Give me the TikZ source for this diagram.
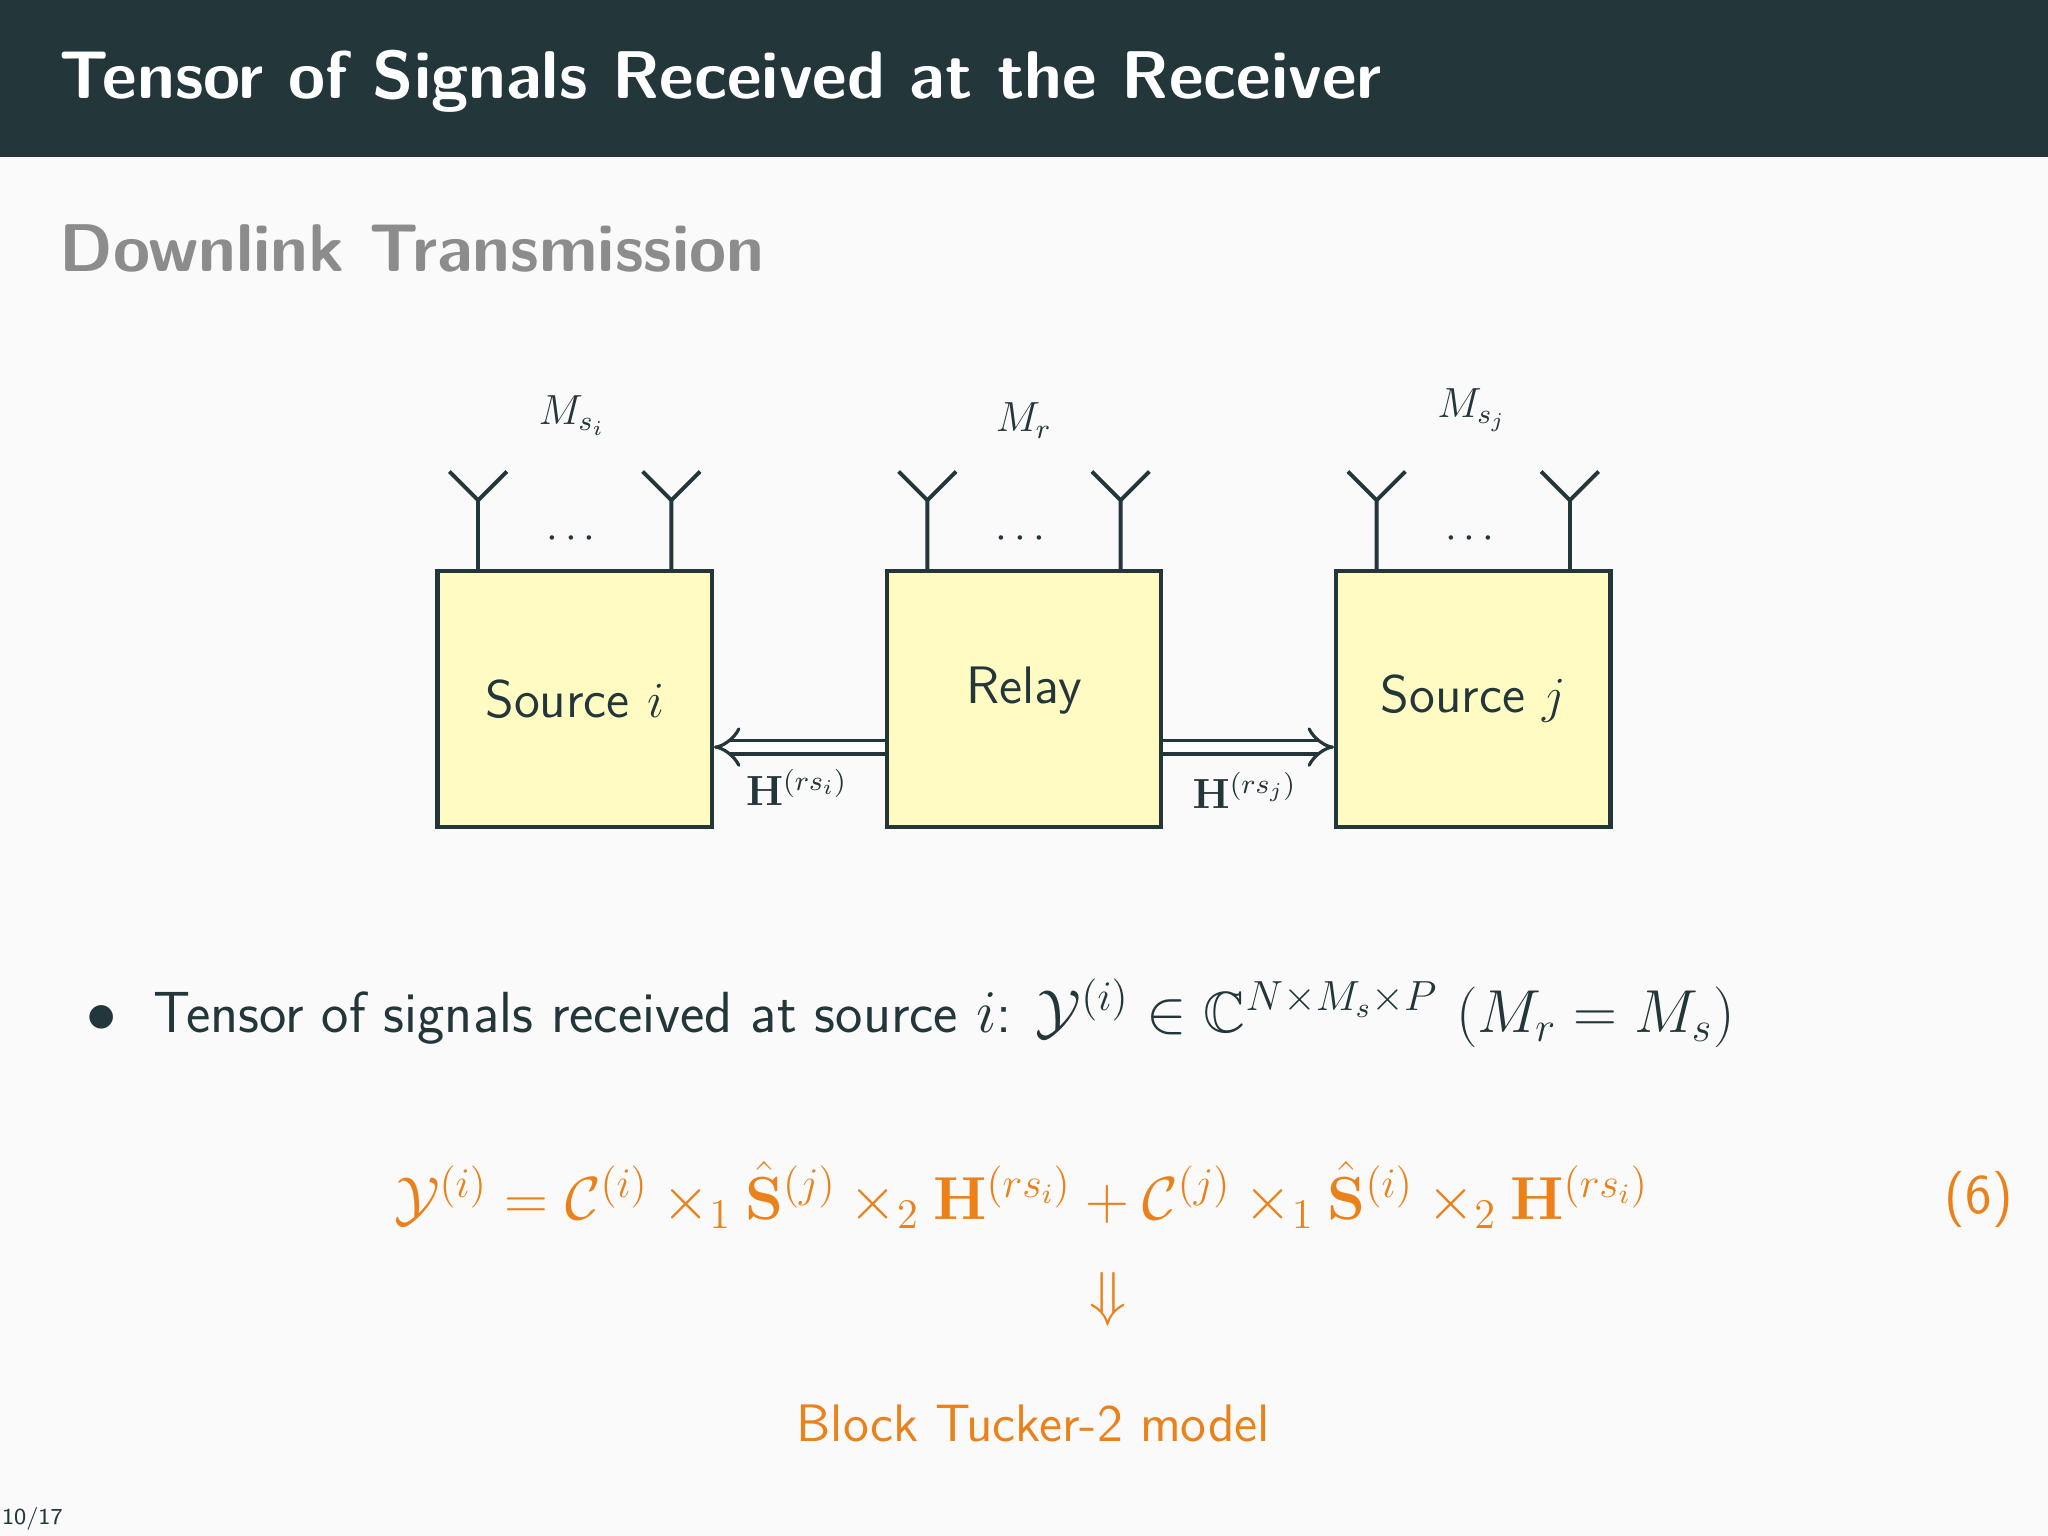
\documentclass[tikz,border=0pt]{standalone}
\usepackage{amsmath,amssymb}
\usetikzlibrary{arrows.meta}
\definecolor{dk}{HTML}{23373B}
\definecolor{bx}{HTML}{FFFBC3}
\definecolor{org}{HTML}{EB811B}
\definecolor{bg}{HTML}{FAFAFA}
\begin{document}
\begin{tikzpicture}[x=0.01306cm,y=-0.01306cm,
  box/.style={draw=dk,fill=bx,line width=1.2pt,minimum width=210*0.01306cm,minimum height=196*0.01306cm,inner sep=0pt,font=\sffamily\fontsize{15}{17}\selectfont,text=dk},
  ant/.style={draw=dk,line width=1.1pt},
  lbl/.style={text=dk,font=\fontsize{12}{14}\selectfont},
  link/.style={draw=dk,double=white,double distance=3pt,line width=0.9pt,-{Implies[length=5pt]}}]
\fill[bg] (0,0) rectangle (1568,1176);
\useasboundingbox (0,0) rectangle (1568,1176);
\fill[dk] (0,0) rectangle (1568,120);
\node[anchor=west,inner sep=0pt,text=white,font=\sffamily\bfseries\fontsize{19.2}{23}\selectfont] (title) at (45,62) {Tensor of Signals Received at the Receiver};
\node[anchor=west,inner sep=0pt,text=black!45,font=\sffamily\bfseries\fontsize{19.2}{23}\selectfont] (sub) at (45,190) {Downlink Transmission};
\node[box] (si) at (440,535) {Source $i$};
\node[box] (re) at (784,535) {\raisebox{8pt}{Relay}};
\node[box] (sj) at (1128,535) {Source $j$};
\foreach \n/\cx in {si/440,re/784,sj/1128}{
  \foreach \dx in {-74,74}{
    \draw[ant] (\cx+\dx,437) -- (\cx+\dx,383) -- (\cx+\dx-22,361);
    \draw[ant] (\cx+\dx,383) -- (\cx+\dx+22,361);
  }
  \node[lbl] at (\cx,413) {$\cdots$};
}
\node[lbl] (m1) at (438,318) {$M_{s_i}$};
\node[lbl] (m2) at (784,322) {$M_r$};
\node[lbl] (m3) at (1127,314) {$M_{s_j}$};
\draw[link] (re.west|-0,572) -- (si.east|-0,572);
\draw[link] (re.east|-0,572) -- (sj.west|-0,572);
\node[lbl] (h1) at (610,603) {$\mathbf{H}^{(rs_i)}$};
\node[lbl] (h2) at (953,605) {$\mathbf{H}^{(rs_j)}$};
\node[anchor=west,inner sep=0pt,text=dk,font=\sffamily\fontsize{16.5}{19}\selectfont] (bul) at (66,776) {$\bullet$\ \ Tensor of signals received at source $i$: $\mathcal{Y}^{(i)}\in\mathbb{C}^{N\times M_s\times P}$ $(M_r=M_s)$};
\node[text=org,font=\fontsize{16.7}{19}\selectfont] (eq) at (782,915) {$\mathcal{Y}^{(i)}=\mathcal{C}^{(i)}\times_1\hat{\mathbf{S}}^{(j)}\times_2\mathbf{H}^{(rs_i)}+\mathcal{C}^{(j)}\times_1\hat{\mathbf{S}}^{(i)}\times_2\mathbf{H}^{(rs_i)}$};
\node[text=org,font=\sffamily\fontsize{16}{18}\selectfont] (num) at (1515,918) {(6)};
\node[text=org,font=\fontsize{16}{18}\selectfont] (dn) at (848,995) {$\Downarrow$};
\node[text=org,font=\sffamily\fontsize{15}{17}\selectfont] (bt) at (791,1090) {Block Tucker-2 model};
\node[anchor=west,inner sep=0pt,text=dk,font=\sffamily\fontsize{6.5}{7}\selectfont] (pg) at (1,1163) {10/17};
\end{tikzpicture}
\end{document}
